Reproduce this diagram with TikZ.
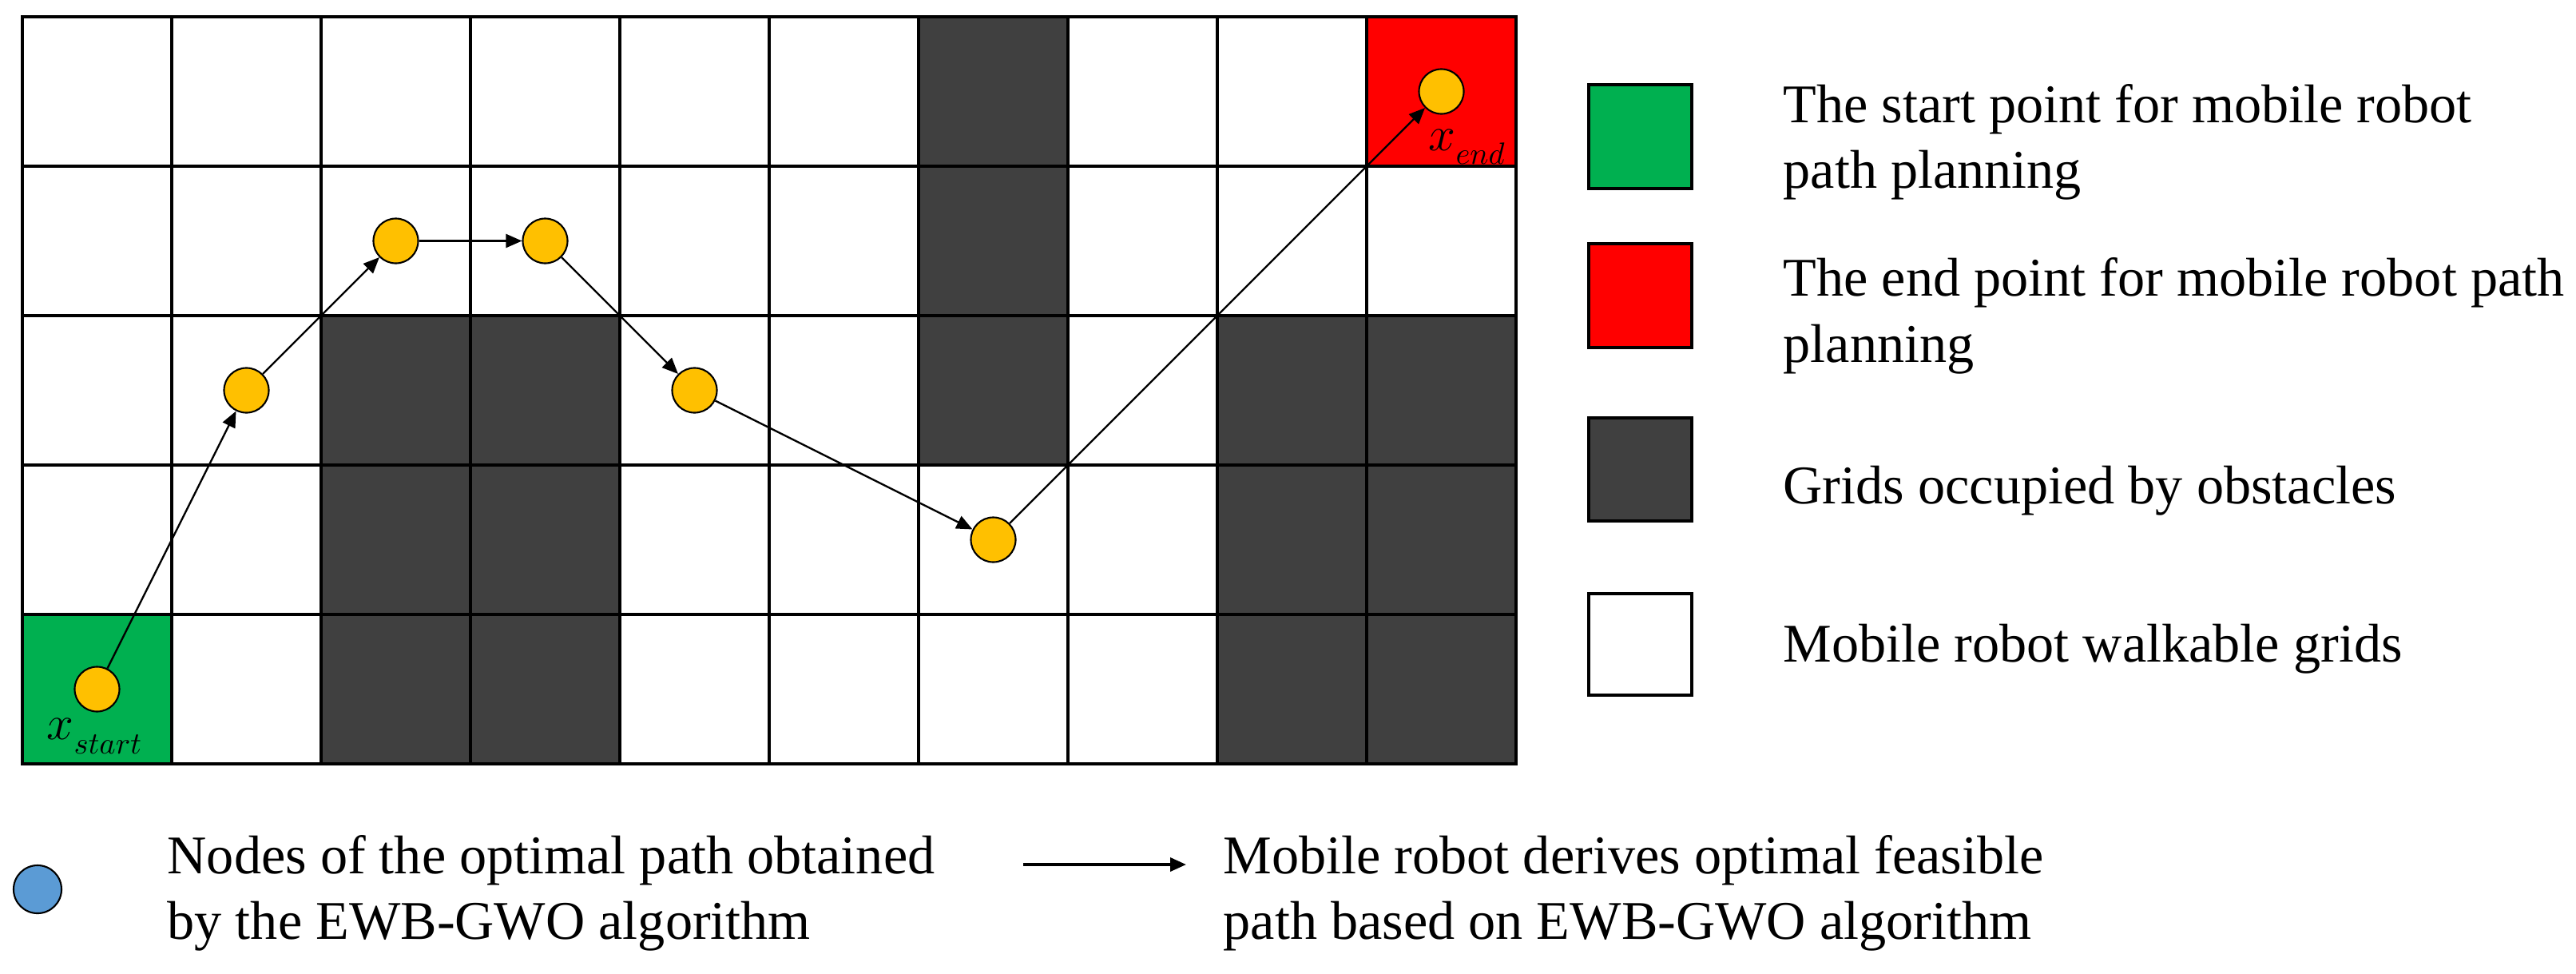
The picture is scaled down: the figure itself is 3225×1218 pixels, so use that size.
\documentclass[tikz,border=0pt]{standalone}
\usepackage{fontspec}
\setmainfont{LiberationSerif}[Extension=.ttf,UprightFont=*-Regular,ItalicFont=*-Italic,BoldFont=*-Bold,BoldItalicFont=*-BoldItalic]
\usetikzlibrary{arrows.meta}
\definecolor{obst}{HTML}{404040}
\definecolor{startg}{HTML}{00B050}
\definecolor{endr}{HTML}{FF0000}
\definecolor{nodey}{HTML}{FFC000}
\definecolor{legb}{HTML}{5B9BD5}
\begin{document}
\begin{tikzpicture}[x=0.01cm,y=-0.01cm,
  gridline/.style={line width=0.9pt,black},
  pathnode/.style={circle,draw=black,line width=0.6pt,fill=nodey,minimum size=0.56cm,inner sep=0pt},
  patharrow/.style={line width=0.65pt,-{Triangle[length=0.2cm,width=0.17cm]}},
  legbox/.style={draw=black,line width=0.9pt},
  legtext/.style={anchor=base west,inner sep=0pt,font=\rmfamily\fontsize{19.4}{23}\selectfont},
  sublabel/.style={anchor=base west,inner sep=0pt}]
\useasboundingbox (0,0) rectangle (3225,1218);
% cells
\foreach \c/\r in {6/0,6/1,6/2,2/2,2/3,2/4,3/2,3/3,3/4,8/2,8/3,8/4,9/2,9/3,9/4}
  \fill[obst] ({28+187*\c},{21+187*\r}) rectangle ++(187,187);
\fill[startg] (28,769) rectangle ++(187,187);
\fill[endr] (1711,21) rectangle ++(187,187);
% grid lines
\foreach \i in {1,...,9}
  \draw[gridline] ({28+187*\i},21) -- ({28+187*\i},956);
\foreach \j in {1,...,4}
  \draw[gridline] (28,{21+187*\j}) -- (1898,{21+187*\j});
\draw[line width=1.2pt] (28,21) rectangle (1898,956);
% path nodes
\node[pathnode] (n1) at (121.5,862.5) {};
\node[pathnode] (n2) at (308.5,488.5) {};
\node[pathnode] (n3) at (495.5,301.5) {};
\node[pathnode] (n4) at (682.5,301.5) {};
\node[pathnode] (n5) at (869.5,488.5) {};
\node[pathnode] (n6) at (1243.5,675.5) {};
\node[pathnode] (n7) at (1804.5,114.5) {};
\draw[patharrow] (n1) -- (n2);
\draw[patharrow] (n2) -- (n3);
\draw[patharrow] (n3) -- (n4);
\draw[patharrow] (n4) -- (n5);
\draw[patharrow] (n5) -- (n6);
\draw[patharrow] (n6) -- (n7);
% labels
\node[sublabel] (xs) at (58,925) {\fontsize{19}{20}\selectfont$x$\raisebox{-0.18cm}{\fontsize{11}{12}\selectfont$start$}};
\node[sublabel] (xe) at (1788,188) {\fontsize{19}{20}\selectfont$x$\raisebox{-0.17cm}{\fontsize{11}{12}\selectfont$end$}};
% legend right
\draw[legbox,fill=startg] (1989,106) rectangle (2118,236);
\draw[legbox,fill=endr] (1989,305) rectangle (2118,435);
\draw[legbox,fill=obst] (1989,523) rectangle (2118,652);
\draw[legbox,fill=white] (1989,743) rectangle (2118,870);
\node[legtext] (t1a) at (2232,153) {The start point for mobile robot};
\node[legtext] (t1b) at (2232,235) {path planning};
\node[legtext] (t2a) at (2232,370) {The end point for mobile robot path};
\node[legtext] (t2b) at (2232,453) {planning};
\node[legtext] (t3) at (2232,630) {Grids occupied by obstacles};
\node[legtext] (t4) at (2232,828) {Mobile robot walkable grids};
% legend bottom
\node[circle,draw=black,line width=0.6pt,fill=legb,minimum size=0.6cm,inner sep=0pt] (lc) at (47,1113) {};
\node[legtext] (t5a) at (209,1093) {Nodes of the optimal path obtained};
\node[legtext] (t5b) at (209,1175) {by the EWB-GWO algorithm};
\coordinate (la1) at (1281,1082);
\coordinate (la2) at (1485,1082);
\draw[line width=1pt,-{Triangle[length=0.2cm,width=0.17cm]}] (la1) -- (la2);
\node[legtext] (t6a) at (1531,1093) {Mobile robot derives optimal feasible};
\node[legtext] (t6b) at (1531,1175) {path based on EWB-GWO algorithm};
\end{tikzpicture}
\end{document}
